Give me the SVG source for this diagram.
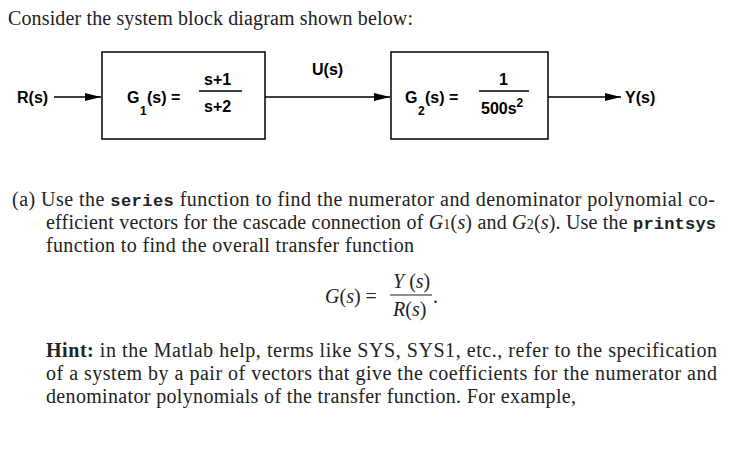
<svg xmlns="http://www.w3.org/2000/svg" width="756" height="465" viewBox="0 0 756 465">
<style>
.b{font-family:"Liberation Sans",Arial,sans-serif;font-weight:bold;font-size:16px;fill:#000}
.m{font-family:"Liberation Mono",monospace;font-weight:bold;font-size:17px}
.box{fill:#fff;stroke:#000;stroke-width:1.5}
.c{stroke:#000;stroke-width:1.3;fill:none}
</style>
<defs><marker id="ah" markerWidth="16" markerHeight="8" refX="16" refY="4" orient="auto" markerUnits="userSpaceOnUse"><path d="M0,0L16,4L0,8z" fill="#000"/></marker></defs>
<rect width="756" height="465" fill="#fff"/>
<g id="connectors">
<line class="c" x1="54" y1="97" x2="101" y2="97" marker-end="url(#ah)"/>
<line class="c" x1="265" y1="97" x2="390" y2="97" marker-end="url(#ah)"/>
<line class="c" x1="548" y1="97" x2="621" y2="97" marker-end="url(#ah)"/>
</g>
<g id="R"><text class="b" x="17" y="103">R(s)</text></g>
<g id="U"><text class="b" x="312" y="75">U(s)</text></g>
<g id="Y"><text class="b" x="625" y="103">Y(s)</text></g>
<g id="G1">
<rect class="box" x="102" y="52" width="163" height="87"/>
<text class="b" x="127" y="103">G</text>
<text class="b" x="140" y="115" style="font-size:12px">1</text>
<text class="b" x="147" y="103">(s) =</text>
<text class="b" x="204" y="85">s+1</text>
<line class="c" x1="199" y1="91" x2="242" y2="91"/>
<text class="b" x="204" y="112">s+2</text>
</g>
<g id="G2">
<rect class="box" x="391" y="52" width="157" height="87"/>
<text class="b" x="405" y="103">G</text>
<text class="b" x="418" y="115" style="font-size:12px">2</text>
<text class="b" x="425" y="103">(s) =</text>
<text class="b" x="499" y="85">1</text>
<line class="c" x1="479" y1="91" x2="529" y2="91"/>
<text class="b" x="481" y="114">500s<tspan style="font-size:12px" dy="-7">2</tspan></text>
</g>
<g style="font-family:'Liberation Serif',serif;font-size:20px;fill:#222">
<text x="8" y="25" textLength="405">Consider the system block diagram shown below:</text>
<text x="12" y="206" textLength="703" lengthAdjust="spacing">(a) Use the <tspan class="m">series</tspan> function to find the numerator and denominator polynomial co-</text>
<text x="46" y="229" textLength="670" lengthAdjust="spacing">efficient vectors for the cascade connection of <tspan font-style="italic">G</tspan><tspan font-size="14">1</tspan>(<tspan font-style="italic">s</tspan>) and <tspan font-style="italic">G</tspan><tspan font-size="14">2</tspan>(<tspan font-style="italic">s</tspan>). Use the <tspan class="m">printsys</tspan></text>
<text x="46" y="252" textLength="368">function to find the overall transfer function</text>
<text x="325" y="303"><tspan font-style="italic">G</tspan>(<tspan font-style="italic">s</tspan>) =</text>
<text x="393" y="288"><tspan font-style="italic">Y</tspan> (<tspan font-style="italic">s</tspan>)</text>
<line x1="390" y1="295" x2="432" y2="295" stroke="#222" stroke-width="1"/>
<text x="393" y="316"><tspan font-style="italic">R</tspan>(<tspan font-style="italic">s</tspan>)</text>
<text x="433" y="303">.</text>
<text x="46" y="357" textLength="671" lengthAdjust="spacing"><tspan font-weight="bold">Hint:</tspan> in the Matlab help, terms like SYS, SYS1, etc., refer to the specification</text>
<text x="46" y="380" textLength="671" lengthAdjust="spacing">of a system by a pair of vectors that give the coefficients for the numerator and</text>
<text x="46" y="403" textLength="530" lengthAdjust="spacing">denominator polynomials of the transfer function. For example,</text>
</g>
</svg>
